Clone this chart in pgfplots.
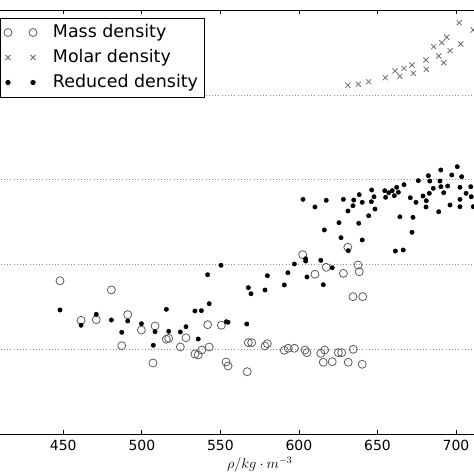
\documentclass[border=0pt]{standalone}
\usepackage{fontspec}
\setmainfont{DejaVu Sans}
\usepackage{pgfplots}
\pgfplotsset{compat=1.18}

\definecolor{massgray}{HTML}{5C5C5C}
\definecolor{molargray}{HTML}{707070}
\definecolor{gridgray}{HTML}{8C8C8C}

\begin{document}
\begin{tikzpicture}
\begin{axis}[
  name=ax,
  scale only axis,
  width=549.78bp, height=424.25bp,
  xmin=400, xmax=750, ymin=0, ymax=5,
  xtick={450,500,...,700},
  ytick={1,2,3,4}, yticklabels={},
  xtick pos=both, ytick pos=both,
  tick align=inside,
  major tick length=4bp,
  minor tick num=0,
  axis line style={black, line width=0.9bp},
  every tick/.style={black, line width=0.8bp},
  ymajorgrids,
  grid style={gridgray, line width=0.7bp, dash pattern=on 1bp off 2.2bp},
  /pgf/number format/assume math mode=true,
  /pgf/number format/1000 sep={},
  xticklabel style={font=\fontsize{14}{14}\selectfont, anchor=base, yshift=-16.7bp},
  xlabel={$\rho/kg\cdot m^{-3}$},
  xlabel style={at={(axis description cs:0.5,-0.0801)}, anchor=base, font=\fontsize{14}{14}\selectfont},
  legend image code/.code={\draw[#1] plot coordinates {(0bp,0bp) (25bp,0bp)};},
  legend style={
    at={(0.3988,0.9812)}, anchor=north east,
    draw=black, line width=0.8bp, fill=white,
    inner sep=4bp, outer sep=0pt,
    font=\fontsize{17.5}{17.5}\selectfont,
    row sep=4bp,
    nodes={inner sep=2bp, text height=13bp, text depth=4bp},
    /tikz/every odd column/.append style={column sep=14bp},
  },
  legend cell align=left,
]

% mass density
\addplot[only marks, mark=o, mark size=4bp, mark options={draw=massgray, line width=0.8bp, fill=none}] coordinates {
(447.9,1.810) (480.6,1.701) (461.3,1.343) (471.0,1.351) (491.0,1.410)
(499.7,1.229) (508.4,1.276) (487.2,1.044) (507.1,0.840) (515.6,1.120)
(517.1,1.131) (524.5,1.029) (528.1,1.138) (533.8,0.946) (535.9,0.935)
(538.1,0.993) (542.9,1.029) (541.9,1.292) (550.6,1.285) (553.6,0.852)
(554.9,0.805) (602.4,2.117) (610.2,1.886) (617.4,1.968) (628.3,1.897)
(631.1,2.204) (637.6,1.995) (638.4,1.916) (634.4,1.622) (640.6,1.622)
(567.8,1.080) (569.9,1.080) (578.4,1.041) (579.9,1.068) (590.7,0.990)
(593.2,1.014) (597.1,1.014) (603.9,0.993) (605.1,0.962) (613.9,0.955)
(616.4,0.993) (625.1,0.962) (627.2,0.962) (634.6,1.002) (615.5,0.849)
(621.2,0.856) (631.4,0.849) (640.3,0.825) (567.1,0.738)
};
\addlegendentry{Mass density}

% molar density
\addplot[only marks, mark=x, mark size=3.6bp, mark options={draw=molargray, line width=0.8bp}] coordinates {
(631.1,4.113) (637.8,4.125) (644.4,4.155) (655.0,4.203) (661.2,4.282)
(664.2,4.219) (666.9,4.313) (672.0,4.352) (672.8,4.254) (680.9,4.411)
(681.1,4.302) (685.8,4.568) (689.0,4.458) (690.9,4.615) (694.1,4.679)
(692.2,4.379) (696.2,4.521) (702.1,4.851) (703.0,4.600) (711.0,4.765)
};
\addlegendentry{Molar density}

% reduced density
\addplot[only marks, mark=*, mark size=2.2bp, mark options={draw=black, fill=black}] coordinates {
(550.4,1.992) (541.9,1.881) (542.9,1.539) (447.9,1.465) (471.0,1.414)
(461.3,1.285) (480.6,1.347) (491.0,1.335) (487.2,1.202) (499.7,1.303)
(508.4,1.209) (507.3,1.049) (515.6,1.473) (517.1,1.214) (524.5,1.206)
(528.1,1.268) (533.8,1.453) (537.9,1.457) (535.9,1.123) (553.8,1.327)
(554.9,1.320) (566.8,1.300) (567.8,1.728) (569.5,1.657) (578.4,1.701)
(579.9,1.869) (590.7,1.760) (593.0,1.904) (597.1,2.007) (604.3,2.069)
(604.3,2.042) (605.1,1.854) (613.9,2.051) (615.5,1.763) (621.2,1.963)
(631.4,2.164) (602.6,2.769) (610.2,2.679) (617.4,2.758) (616.2,2.408)
(625.5,2.494) (626.8,2.317) (628.3,2.769) (631.2,2.632) (634.4,2.694)
(634.9,2.761) (638.1,2.487) (638.4,2.824) (640.3,2.734) (640.3,2.290)
(644.4,2.576) (646.1,2.741) (646.3,2.879) (647.8,2.800) (648.4,2.655)
(654.6,2.871) (655.2,2.793) (657.2,2.847) (659.4,2.871) (660.7,2.812)
(662.2,2.911) (663.3,2.852) (666.9,2.942) (661.4,2.160) (666.4,2.172)
(664.3,2.564) (670.9,2.788) (672.6,2.557) (672.0,2.381) (674.5,2.734)
(676.0,2.989) (679.0,2.808) (681.1,2.753) (680.9,2.679) (682.4,3.048)
(683.3,2.985) (683.0,2.840) (685.5,2.899) (689.0,2.623) (690.3,3.115)
(689.8,2.985) (690.4,2.918) (692.2,2.847) (694.7,2.926) (696.2,2.702)
(697.3,3.056) (700.8,3.154) (703.6,3.036) (702.5,2.911) (702.5,2.769)
(702.5,2.682) (706.4,2.840) (709.4,2.918) (709.7,2.800) (711.0,2.682)
};
\addlegendentry{Reduced density}
\end{axis}
% visible window: 474bp x 474bp, starting 15.24bp right of and 39.71bp below the axis' lower-left corner
\pgfresetboundingbox
\useasboundingbox ([shift={(15.24bp,-39.71bp)}]ax.south west) rectangle ++(474bp,474bp);
\end{tikzpicture}
\end{document}
